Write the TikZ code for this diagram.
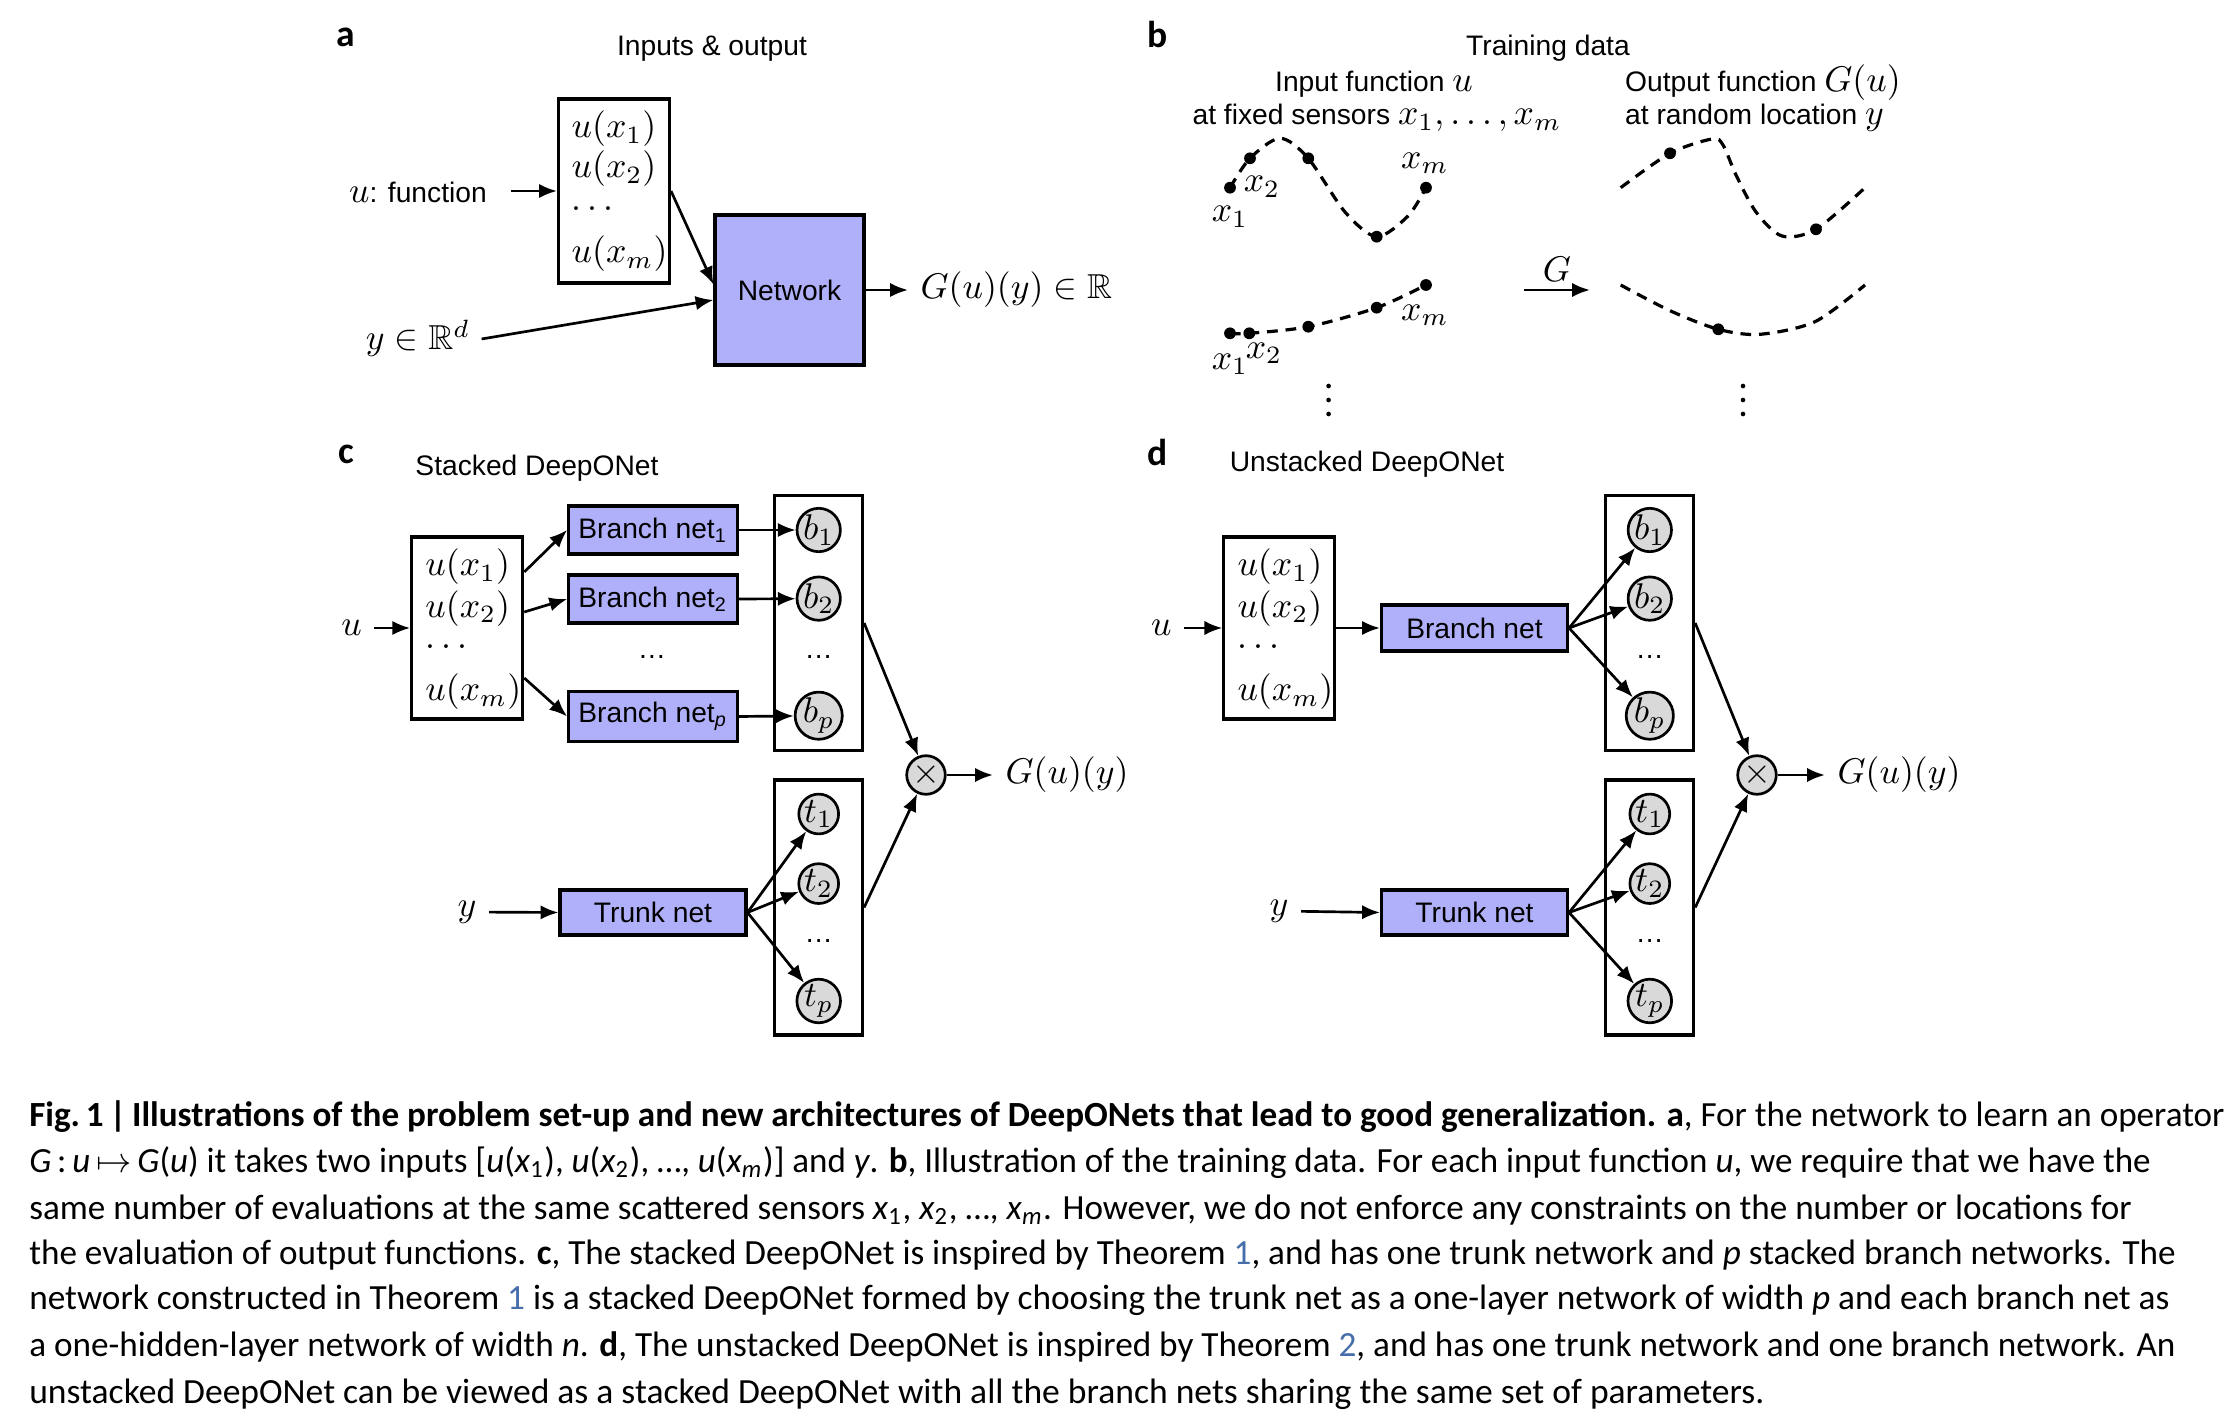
\documentclass[tikz,border=0pt]{standalone}
\usepackage[no-math]{fontspec}
\usepackage{amssymb}
\usepackage{graphicx}
\usetikzlibrary{arrows.meta,calc}
\newfontfamily\figfont{Liberation Sans}
\newfontfamily\capfont{Carlito}
\definecolor{netfill}{RGB}{176,176,250}
\definecolor{neurfill}{RGB}{217,217,217}
\definecolor{refblue}{RGB}{70,110,170}
\newcommand\tfs{\figfont\fontsize{7.9}{9.4}\selectfont}
\newcommand\mfs{\fontsize{9.7}{11.6}\selectfont}
\newcommand\cfs{\capfont\fontsize{9.9}{12}\selectfont}
\begin{document}
\begin{tikzpicture}[x=0.28pt,y=-0.28pt,
  bx/.style 2 args={draw, line width=0.85pt, minimum width=#1*0.28pt, minimum height=#2*0.28pt, inner sep=0pt},
  neuron/.style={circle, draw, line width=0.75pt, fill=neurfill, minimum size=11pt, inner sep=0pt, font=\mfs},
  arr/.style={-{Latex[length=5pt,width=4pt]}, line width=0.75pt},
  dcurve/.style={line width=0.9pt, dash pattern=on 3pt off 2.2pt},
  sdot/.style={circle, fill=black, inner sep=0pt, minimum size=3.3pt},
  vdot/.style={circle, fill=black, inner sep=0pt, minimum size=1.3pt},
  mt/.style={font=\mfs},
  tx/.style={font=\tfs},
  dlab/.style={font=\mfs, inner sep=0pt},
  entry/.style={font=\mfs, anchor=west, inner sep=0pt},
  plabel/.style={font=\capfont\bfseries\fontsize{10.5}{12}\selectfont},
  capline/.style={anchor=base west, inner sep=0pt, font=\cfs}]
\useasboundingbox (0,0) rectangle (2238,1422);
\fill[white] (0,0) rectangle (2238,1422);

% ---------------- panel a ----------------
\node[plabel] (la) at (346,37) {a};
\node[tx,anchor=base] (ta) at (712,56) {Inputs \& output};
\node[bx={111}{184}] (inA) at (614,191) {};
\node[entry] (a1) at (571,129) {$u(x_1)$};
\node[entry] (a2) at (571,169) {$u(x_2)$};
\node[entry] (a3) at (571,210) {$\cdots$};
\node[entry] (a4) at (571,254) {$u(x_m)$};
\node[tx,anchor=base] (ufn) at (418,203) {{\mfs$u$}: function};
\coordinate (ufnS) at (511,191);
\draw[arr] (ufnS) -- (inA.west);
\node[bx={149}{150},fill=netfill,tx] (net) at (789.5,290) {Network};
\draw[arr] (inA.east) -- ($(net.west)+(0,-5.5)$);
\node[mt,anchor=base] (yrd) at (418,350) {$y\in\mathbb{R}^d$};
\coordinate (yrdS) at (481.6,339);
\draw[arr] (yrdS) -- ($(net.west)+(0,10)$);
\node[mt,anchor=west] (Ga) at (908,290) {$G(u)(y)\in\mathbb{R}$};
\draw[arr] (net.east) -- (Ga.west);

% ---------------- panel b ----------------
\node[plabel] (lb) at (1158,34) {b};
\node[tx,anchor=base] (tb) at (1548,56) {Training data};
\node[tx,anchor=base] (ib1) at (1374,91.5) {Input function {\mfs$u$}};
\node[tx,anchor=base] (ib2) at (1377,125) {at fixed sensors {\mfs$x_1,\ldots,x_m$}};
\node[tx,anchor=base west,inner sep=0pt] (ob1) at (1624.5,91.5) {Output function {\mfs$G(u)$}};
\node[tx,anchor=base west,inner sep=0pt] (ob2) at (1624.5,125) {at random location {\mfs$y$}};

% top-left curve
\draw[dcurve] plot[smooth] coordinates {(1230,187.7) (1250,158.3) (1280,138.3) (1308,158) (1345,212) (1376.7,236.7) (1408,216) (1426,187.7)};
\node[sdot] (p11) at (1230,187.7) {};
\node[sdot] (p12) at (1250,158.3) {};
\node[sdot] (p13) at (1308.3,158.3) {};
\node[sdot] (p14) at (1376.7,236.7) {};
\node[sdot] (p15) at (1426,187.7) {};
\node[dlab] (lx11) at (1230,216.7) {$x_1$};
\node[dlab] (lx12) at (1262,186.7) {$x_2$};
\node[dlab] (lx1m) at (1425,163.3) {$x_m$};
% bottom-left curve
\draw[dcurve] plot[smooth] coordinates {(1230,333.3) (1249.3,333.3) (1308.3,326.7) (1376.7,307.7) (1426,285)};
\node[sdot] (p21) at (1230,333.3) {};
\node[sdot] (p22) at (1249.3,333.3) {};
\node[sdot] (p23) at (1308.3,326.7) {};
\node[sdot] (p24) at (1376.7,307.7) {};
\node[sdot] (p25) at (1426,285) {};
\node[dlab] (lx21) at (1230,364) {$x_1$};
\node[dlab] (lx22) at (1264,353.3) {$x_2$};
\node[dlab] (lx2m) at (1425,315) {$x_m$};
% operator arrow
\coordinate (gS) at (1524,290);
\coordinate (gE) at (1590,290);
\draw[arr] (gS) -- node[mt,above,inner sep=2pt] (gl) {$G$} (gE);
% top-right curve
\draw[dcurve] plot[smooth, tension=0.5] coordinates {(1620.7,187.7) (1670,153.3) (1712,139) (1723,145) (1736,175) (1756,212) (1782,236) (1816,229.3) (1865,187.7)};
\node[sdot] (q11) at (1670,153.3) {};
\node[sdot] (q12) at (1816,229.3) {};
% bottom-right curve
\draw[dcurve] plot[smooth] coordinates {(1620.7,285) (1670,310.7) (1718.3,329.3) (1760,334.3) (1815,321.7) (1865,285)};
\node[sdot] (q21) at (1718.3,329.3) {};
% vertical dots
\node[vdot] (vl1) at (1328.6,386) {};
\node[vdot] (vl2) at (1328.6,400) {};
\node[vdot] (vl3) at (1328.6,414) {};
\node[vdot] (vr1) at (1743,386) {};
\node[vdot] (vr2) at (1743,400) {};
\node[vdot] (vr3) at (1743,414) {};

% ---------------- panel c ----------------
\node[plabel] (lc) at (346,454) {c};
\node[tx,anchor=base] (tc) at (537,475.6) {Stacked DeepONet};
\node[bx={111}{182}] (inC) at (467.25,628) {};
\node[entry] (c1) at (424.7,567) {$u(x_1)$};
\node[entry] (c2) at (424.7,608.6) {$u(x_2)$};
\node[entry] (c3) at (424.7,647.5) {$\cdots$};
\node[entry] (c4) at (424.7,692) {$u(x_m)$};
\node[mt] (uC) at (351.5,628) {$u$};
\draw[arr] (uC) -- (inC.west);
\node[bx={168.6}{48},fill=netfill,tx] (bn1) at (653,530) {Branch net\textsubscript{1}};
\node[bx={168.6}{48},fill=netfill,tx] (bn2) at (653,599) {Branch net\textsubscript{2}};
\node[tx] (bdots) at (652,657) {…};
\node[bx={168.6}{50},fill=netfill,tx] (bnp) at (653,716.5) {Branch net\textsubscript{\textit{p}}};
\draw[arr] ($(inC.east)+(0,-56)$) -- (bn1.west);
\draw[arr] ($(inC.east)+(0,-16)$) -- (bn2.west);
\draw[arr] ($(inC.east)+(0,50)$) -- (bnp.west);
\node[bx={87.8}{255}] (colB) at (818.7,623) {};
\node[neuron] (b1) at (818.7,530) {$b_1$};
\node[neuron] (b2) at (818.7,598.6) {$b_2$};
\node[tx] (cbd) at (818.7,657) {…};
\node[neuron] (bp) at (818.7,715.7) {$b_p$};
\draw[arr] (bn1.east) -- (b1);
\draw[arr] (bn2.east) -- (b2);
\draw[arr] (bnp.east) -- (bp);
\node[bx={87.8}{255}] (colT) at (818.7,907.5) {};
\node[neuron] (t1) at (818.7,814) {$t_1$};
\node[neuron] (t2) at (818.7,883.6) {$t_2$};
\node[tx] (ctd) at (818.7,941) {…};
\node[neuron] (tp) at (818.7,1001) {$t_p$};
\node[bx={186}{45},fill=netfill,tx] (trC) at (653,912.5) {Trunk net};
\node[mt] (yC) at (467,912) {$y$};
\draw[arr] (yC) -- (trC.west);
\draw[arr] (trC.east) -- (t1);
\draw[arr] (trC.east) -- (t2);
\draw[arr] (trC.east) -- (tp);
\node[neuron,minimum size=10.8pt] (oC) at (926,775) {$\times$};
\draw[arr] (colB.east) -- (oC);
\draw[arr] (colT.east) -- (oC);
\node[mt,anchor=west] (GC) at (993,775) {$G(u)(y)$};
\draw[arr] (oC) -- (GC.west);

% ---------------- panel d ----------------
\node[plabel] (ld) at (1158,452) {d};
\node[tx,anchor=base] (td) at (1367,471.7) {Unstacked DeepONet};
\node[bx={111}{182}] (inD) at (1279.35,628) {};
\node[entry] (d1) at (1236.8,567) {$u(x_1)$};
\node[entry] (d2) at (1236.8,608.6) {$u(x_2)$};
\node[entry] (d3) at (1236.8,647.5) {$\cdots$};
\node[entry] (d4) at (1236.8,692) {$u(x_m)$};
\node[mt] (uD) at (1161.4,628) {$u$};
\draw[arr] (uD) -- (inD.west);
\node[bx={186}{46},fill=netfill,tx] (bnD) at (1474.5,628) {Branch net};
\draw[arr] (inD.east) -- (bnD.west);
\node[bx={87.8}{255}] (colBD) at (1649.8,623) {};
\node[neuron] (b1D) at (1649.8,530) {$b_1$};
\node[neuron] (b2D) at (1649.8,598.6) {$b_2$};
\node[tx] (dbd) at (1649.8,657) {…};
\node[neuron] (bpD) at (1649.8,715.7) {$b_p$};
\draw[arr] (bnD.east) -- (b1D);
\draw[arr] (bnD.east) -- (b2D);
\draw[arr] (bnD.east) -- (bpD);
\node[bx={87.8}{255}] (colTD) at (1649.8,907.5) {};
\node[neuron] (t1D) at (1649.8,814) {$t_1$};
\node[neuron] (t2D) at (1649.8,883.6) {$t_2$};
\node[tx] (dtd) at (1649.8,941) {…};
\node[neuron] (tpD) at (1649.8,1001) {$t_p$};
\node[bx={186}{45},fill=netfill,tx] (trD) at (1474.5,912.5) {Trunk net};
\node[mt] (yD) at (1279,911) {$y$};
\draw[arr] (yD) -- (trD.west);
\draw[arr] (trD.east) -- (t1D);
\draw[arr] (trD.east) -- (t2D);
\draw[arr] (trD.east) -- (tpD);
\node[neuron,minimum size=10.8pt] (oD) at (1757,775) {$\times$};
\draw[arr] (colBD.east) -- (oD);
\draw[arr] (colTD.east) -- (oD);
\node[mt,anchor=west] (GD) at (1825,775) {$G(u)(y)$};
\draw[arr] (oD) -- (GD.west);

% ---------------- caption ----------------
\node[capline] (cap1) at (28.6,1126.5) {\resizebox{614.6pt}{\height}{\textbf{Fig.\,1\,|\,Illustrations of the problem set-up and new architectures of DeepONets that lead to good generalization. a}, For the network to learn an operator}};
\node[capline] (cap2) at (28.6,1172) {\resizebox{593.9pt}{\height}{\textit{G}\,:\,\textit{u}\,$\mapsto$\,\textit{G}(\textit{u}) it takes two inputs [\textit{u}(\textit{x}\textsubscript{1}), \textit{u}(\textit{x}\textsubscript{2}), …, \textit{u}(\textit{x}\textsubscript{\textit{m}})] and \textit{y}. \textbf{b}, Illustration of the training data. For each input function \textit{u}, we require that we have the}};
\node[capline] (cap3) at (28.6,1219) {\resizebox{588.6pt}{\height}{same number of evaluations at the same scattered sensors \textit{x}\textsubscript{1}, \textit{x}\textsubscript{2}, …, \textit{x}\textsubscript{\textit{m}}. However, we do not enforce any constraints on the number or locations for}};
\node[capline] (cap4) at (28.6,1264) {\resizebox{600.9pt}{\height}{the evaluation of output functions. \textbf{c}, The stacked DeepONet is inspired by Theorem {\color{refblue}1}, and has one trunk network and \textit{p} stacked branch networks. The}};
\node[capline] (cap5) at (28.6,1309.5) {\resizebox{599.2pt}{\height}{network constructed in Theorem {\color{refblue}1} is a stacked DeepONet formed by choosing the trunk net as a one-layer network of width \textit{p} and each branch net as}};
\node[capline] (cap6) at (28.6,1356.5) {\resizebox{600.9pt}{\height}{a one-hidden-layer network of width \textit{n}. \textbf{d}, The unstacked DeepONet is inspired by Theorem {\color{refblue}2}, and has one trunk network and one branch network. An}};
\node[capline] (cap7) at (28.6,1403) {\resizebox{485.8pt}{\height}{unstacked DeepONet can be viewed as a stacked DeepONet with all the branch nets sharing the same set of parameters.}};
\end{tikzpicture}
\end{document}
